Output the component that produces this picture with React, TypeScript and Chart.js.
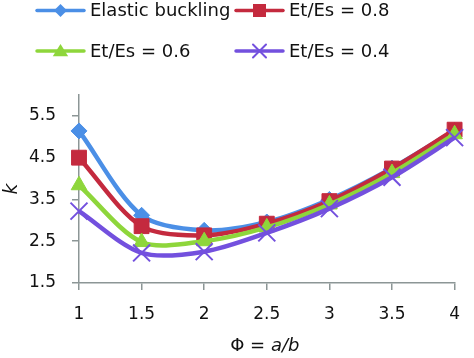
import React, { useEffect, useRef } from 'react';
import { Chart, registerables } from 'chart.js';

Chart.register(...registerables);

const FONT = '"DejaVu Sans", sans-serif';

const xValues = [1, 1.5, 2, 2.5, 3, 3.5, 4];
const xTicks = [1, 1.5, 2, 2.5, 3, 3.5, 4];
const yTicks = [1.5, 2.5, 3.5, 4.5, 5.5];

const seriesNames = ['Elastic buckling', 'Et/Es = 0.8', 'Et/Es = 0.6', 'Et/Es = 0.4'];
const elastic = [5.14, 3.12, 2.76, 2.96, 3.5, 4.25, 5.15];
const et08 = [4.5, 2.86, 2.64, 2.92, 3.46, 4.24, 5.17];
const et06 = [3.84, 2.48, 2.5, 2.83, 3.38, 4.13, 5.06];
const et04 = [3.22, 2.22, 2.25, 2.7, 3.28, 4.03, 4.98];

const colors = ['#4B8FE6', '#C42A3E', '#8ED63B', '#7350DE'];
const styles = ['rectRot', 'rect', 'triangle', 'crossRot'];
const radii = [8, 10.5, 9, 12];

function drawMarker(ctx: CanvasRenderingContext2D, style: string, x: number, y: number, s: number, color: string) {
  ctx.fillStyle = color;
  ctx.strokeStyle = color;
  ctx.beginPath();
  if (style === 'rectRot') {
    ctx.moveTo(x, y - s);
    ctx.lineTo(x + s, y);
    ctx.lineTo(x, y + s);
    ctx.lineTo(x - s, y);
    ctx.closePath();
    ctx.fill();
  } else if (style === 'rect') {
    ctx.rect(x - s, y - s, 2 * s, 2 * s);
    ctx.fill();
  } else if (style === 'triangle') {
    ctx.moveTo(x, y - s);
    ctx.lineTo(x + s * 1.1, y + s * 0.75);
    ctx.lineTo(x - s * 1.1, y + s * 0.75);
    ctx.closePath();
    ctx.fill();
  } else {
    ctx.lineWidth = 2;
    ctx.moveTo(x - s, y - s);
    ctx.lineTo(x + s, y + s);
    ctx.moveTo(x + s, y - s);
    ctx.lineTo(x - s, y + s);
    ctx.stroke();
  }
}

export default function App() {
  const ref = useRef<HTMLCanvasElement>(null);

  useEffect(() => {
    document.body.style.margin = '0';
    const canvas = ref.current;
    if (!canvas) return;
    const mk = (vals: number[]) => vals.map((y, i) => ({ x: xValues[i], y }));
    const allSeries = [elastic, et08, et06, et04];

    const legendPlugin = {
      id: 'customLegend',
      afterDraw(chart: any) {
        const ctx: CanvasRenderingContext2D = chart.ctx;
        ctx.save();
        const pos = [[37, 10.5], [236, 10.5], [37, 51], [236, 51]];
        const msize = [6.5, 6.5, 7, 6.5];
        seriesNames.forEach((name, i) => {
          const [x, y] = pos[i];
          ctx.strokeStyle = colors[i];
          ctx.lineWidth = 3.5;
          ctx.lineCap = 'round';
          ctx.beginPath();
          ctx.moveTo(x, y);
          ctx.lineTo(x + 47, y);
          ctx.stroke();
          drawMarker(ctx, styles[i], x + 23.5, y, msize[i], colors[i]);
          ctx.fillStyle = '#111111';
          ctx.font = '18px ' + FONT;
          ctx.textBaseline = 'middle';
          ctx.textAlign = 'left';
          ctx.fillText(name, x + 53, y + 1);
        });
        // x-axis title: "Φ = a/b" with italic a/b
        const cx = (chart.chartArea.left + chart.chartArea.right) / 2 - 2;
        const ty = 346;
        ctx.fillStyle = '#111111';
        ctx.textBaseline = 'middle';
        ctx.textAlign = 'left';
        ctx.font = '18px ' + FONT;
        const p1 = 'Φ = ';
        const w1 = ctx.measureText(p1).width;
        ctx.font = 'italic 18px ' + FONT;
        const p2 = 'a/b';
        const w2 = ctx.measureText(p2).width;
        const start = cx - (w1 + w2) / 2;
        ctx.font = '18px ' + FONT;
        ctx.fillText(p1, start, ty);
        ctx.font = 'italic 18px ' + FONT;
        ctx.fillText(p2, start + w1, ty);
        ctx.restore();
      },
    };

    const axisColor = '#8c9696';
    const chart = new Chart(canvas, {
      type: 'line',
      data: {
        datasets: allSeries.map((vals, i) => ({
          label: seriesNames[i],
          data: mk(vals),
          borderColor: colors[i],
          backgroundColor: colors[i],
          borderWidth: 4.5,
          tension: 0.3,
          pointStyle: styles[i] as any,
          pointRadius: radii[i],
          pointBorderWidth: i === 3 ? 2 : 1,
          pointBorderColor: colors[i],
          pointBackgroundColor: colors[i],
          order: 4 - i,
          clip: false as any,
          fill: false,
        })),
      },
      options: {
        responsive: false,
        animation: false,
        devicePixelRatio: 1,
        layout: { padding: { top: 95, right: 9, left: 0, bottom: 0 } },
        plugins: {
          legend: { display: false },
          tooltip: { enabled: false },
        },
        scales: {
          x: {
            type: 'linear',
            min: 1,
            max: 4,
            afterBuildTicks: (s: any) => {
              s.ticks = xTicks.map((v) => ({ value: v }));
            },
            afterFit: (s: any) => {
              s.height = 75;
            },
            ticks: {
              callback: (v: any) => String(v),
              font: { family: FONT, size: 17 },
              color: '#111111',
              padding: 14,
              maxRotation: 0,
              autoSkip: false,
            },
            grid: {
              drawOnChartArea: false,
              drawTicks: true,
              tickLength: 7,
              color: axisColor,
              lineWidth: 1.5,
            },
            border: { color: axisColor, width: 1.5 },
          },
          y: {
            type: 'linear',
            min: 1.5,
            max: 6,
            afterBuildTicks: (s: any) => {
              s.ticks = yTicks.map((v) => ({ value: v }));
            },
            afterFit: (s: any) => {
              s.width = 79;
            },
            ticks: {
              callback: (v: any) => String(v),
              font: { family: FONT, size: 17 },
              color: '#111111',
              padding: 16,
              autoSkip: false,
            },
            grid: {
              drawOnChartArea: false,
              drawTicks: true,
              tickLength: 7,
              color: axisColor,
              lineWidth: 1.5,
            },
            border: { color: axisColor, width: 1.5 },
            title: {
              display: true,
              text: 'k',
              font: { family: FONT, size: 19, style: 'italic' },
              color: '#111111',
              padding: { top: 1, bottom: 0 },
            },
          },
        },
      },
      plugins: [legendPlugin],
    });
    return () => chart.destroy();
  }, []);

  return (
    <div style={{ width: 474, height: 358, position: 'relative' }}>
      <canvas ref={ref} width={474} height={358} style={{ display: 'block' }} />
    </div>
  );
}
